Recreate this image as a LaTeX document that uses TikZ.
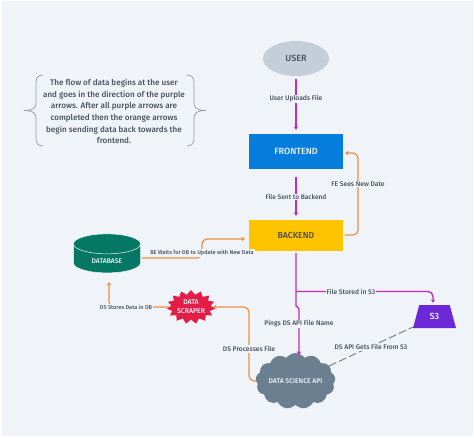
\documentclass[tikz,border=0pt]{standalone}
\usepackage{fontspec}
\setmainfont{Fira Sans Medium}
\usetikzlibrary{shapes.geometric,shapes.symbols,arrows.meta,calc}
\definecolor{bg}{HTML}{F0F4F8}
\definecolor{purp}{HTML}{C02CC0}
\definecolor{oran}{HTML}{EE8E42}
\definecolor{txt}{HTML}{46525F}
\tikzset{
  x=1pt,y=-1pt,
  lbl/.style={font=\fontsize{6.7}{8}\selectfont,text=txt,fill=bg,inner sep=0.8pt},
  box/.style={draw=none,minimum width=94pt,font=\fontsize{9}{10}\selectfont},
  purpar/.style={draw=purp,line width=1.4pt,-{Stealth[length=3.5pt,width=4.5pt]}},
  oranar/.style={draw=oran,line width=1.2pt,-{Stealth[length=3.5pt,width=4.5pt]},rounded corners=5pt},
  brace/.style={draw=gray!80,line width=0.7pt},
}
\begin{document}
\begin{tikzpicture}
\useasboundingbox (0,0) rectangle (474,437);
\fill[white] (0,0) rectangle (474,437);
\fill[bg] (2,1) rectangle (473,435.5);
\node[ellipse,fill={rgb,255:red,196;green,206;blue,216},minimum width=66pt,minimum height=35pt,inner sep=0pt,font=\fontsize{9}{10}\selectfont,text=txt] (user) at (296,58.5) {USER};
\node[box,fill={rgb,255:red,5;green,125;blue,220},text=bg,minimum height=35pt] (front) at (296,151.5) {FRONTEND};
\node[box,fill={rgb,255:red,255;green,196;blue,0},text=black!70,minimum height=31pt,font=\fontsize{8.7}{10}\selectfont] (back) at (296,235.5) {BACKEND};
\node[cylinder,shape border rotate=90,aspect=0.65,draw=bg,line width=0.5pt,fill={rgb,255:red,4;green,120;blue,100},minimum width=67pt,minimum height=39pt,inner sep=0pt,text=bg,font=\fontsize{6.8}{7}\selectfont] (db) at (107,258.5) {\raisebox{-5pt}[0pt][0pt]{DATABASE}};
\node[starburst,starburst points=15,starburst point height=4.5pt,random starburst=0,fill={rgb,255:red,225;green,29;blue,72},minimum width=46pt,minimum height=34pt,inner sep=0pt,align=center,text=bg,font=\fontsize{6.9}{9}\selectfont] (scr) at (191,307) {DATA\\SCRAPER};
\node[cloud,cloud puffs=13,cloud puff arc=110,aspect=1.6,fill={rgb,255:red,108;green,127;blue,145},minimum width=77pt,minimum height=50pt,inner sep=0pt,text=bg,font=\fontsize{6.8}{7}\selectfont] (api) at (295.5,381) {DATA SCIENCE API};
\node[trapezium,trapezium stretches=true,trapezium left angle=73,trapezium right angle=73,fill={rgb,255:red,109;green,40;blue,217},minimum width=43pt,minimum height=23pt,inner sep=0pt,text=bg,font=\fontsize{9}{10}\selectfont] (s3) at (434.5,316.5) {S3};
% text note
\node[align=center,font=\fontsize{8.1}{11.7}\selectfont,text=txt] (note) at (114,111.4) {The flow of data begins at the user\\and goes in the direction of the purple\\arrows. After all purple arrows are\\completed then the orange arrows\\begin sending data back towards the\\frontend.};
\coordinate (lb1) at (24,110.5);
\coordinate (rb1) at (206,110.5);
\draw[brace] (43,75) .. controls (37,75) and (36,79) .. (36,84) -- (36,103) .. controls (36,108) and (33,110.5) .. (lb1) .. controls (33,110.5) and (36,113) .. (36,118) -- (36,137) .. controls (36,142) and (37,146) .. (43,146);
\draw[brace] (187,75) .. controls (193,75) and (194,79) .. (194,84) -- (194,103) .. controls (194,108) and (197,110.5) .. (rb1) .. controls (197,110.5) and (194,113) .. (194,118) -- (194,137) .. controls (194,142) and (193,146) .. (187,146);
% purple
\draw[purpar] ($(user.south)+(0,3)$) -- ($(front.north)+(0,-4)$);
\node[lbl] (l1) at (296,99) {User Uploads File};
\draw[purpar] ($(front.south)+(0,8)$) -- ($(back.north)+(0,-4)$);
\node[lbl,font=\fontsize{6.6}{8}\selectfont] (l2) at (296,197) {File Sent to Backend};
\draw[purpar,line join=round] ($(back.south)+(0,2)$) -- (296,306) .. controls (296,307.5) and (299,306.5) .. (299,309) -- (299,355);
\node[lbl] (l3) at (299,324) {Pings DS API File Name};
\draw[purpar,rounded corners=5pt] (296,291.5) -- (433,291.5) -- ($(s3.north)+(-1.5,-2)$);
\node[lbl] (l4) at (351,292) {File Stored in S3};
% orange
\draw[oranar] (345,235) -- (358,235) -- (358,153) -- (345,153);
\node[lbl] (l5) at (358,184) {FE Sees New Date};
\draw[oranar] (142,258) -- (202,258) -- (202,239) -- (245,239);
\node[lbl,font=\fontsize{5.6}{7}\selectfont] (l6) at (202,253) {BE Waits for DB to Update with New Data};
\draw[oranar] (scr.west) -- (109,307) -- (109,282);
\node[lbl,font=\fontsize{5.6}{7}\selectfont] (l7) at (126,307) {DS Stores Data in DB};
\draw[oranar] (256,381) -- (249,381) -- (249,307) -- (scr.east);
\node[lbl] (l8) at (249,349) {DS Processes File};
% dashed
\draw[draw=gray,line width=1pt,dash pattern=on 8pt off 3pt] (329,366) -- (413,327);
\node[lbl] (l9) at (371,347) {DS API Gets File From S3};
\end{tikzpicture}
\end{document}
